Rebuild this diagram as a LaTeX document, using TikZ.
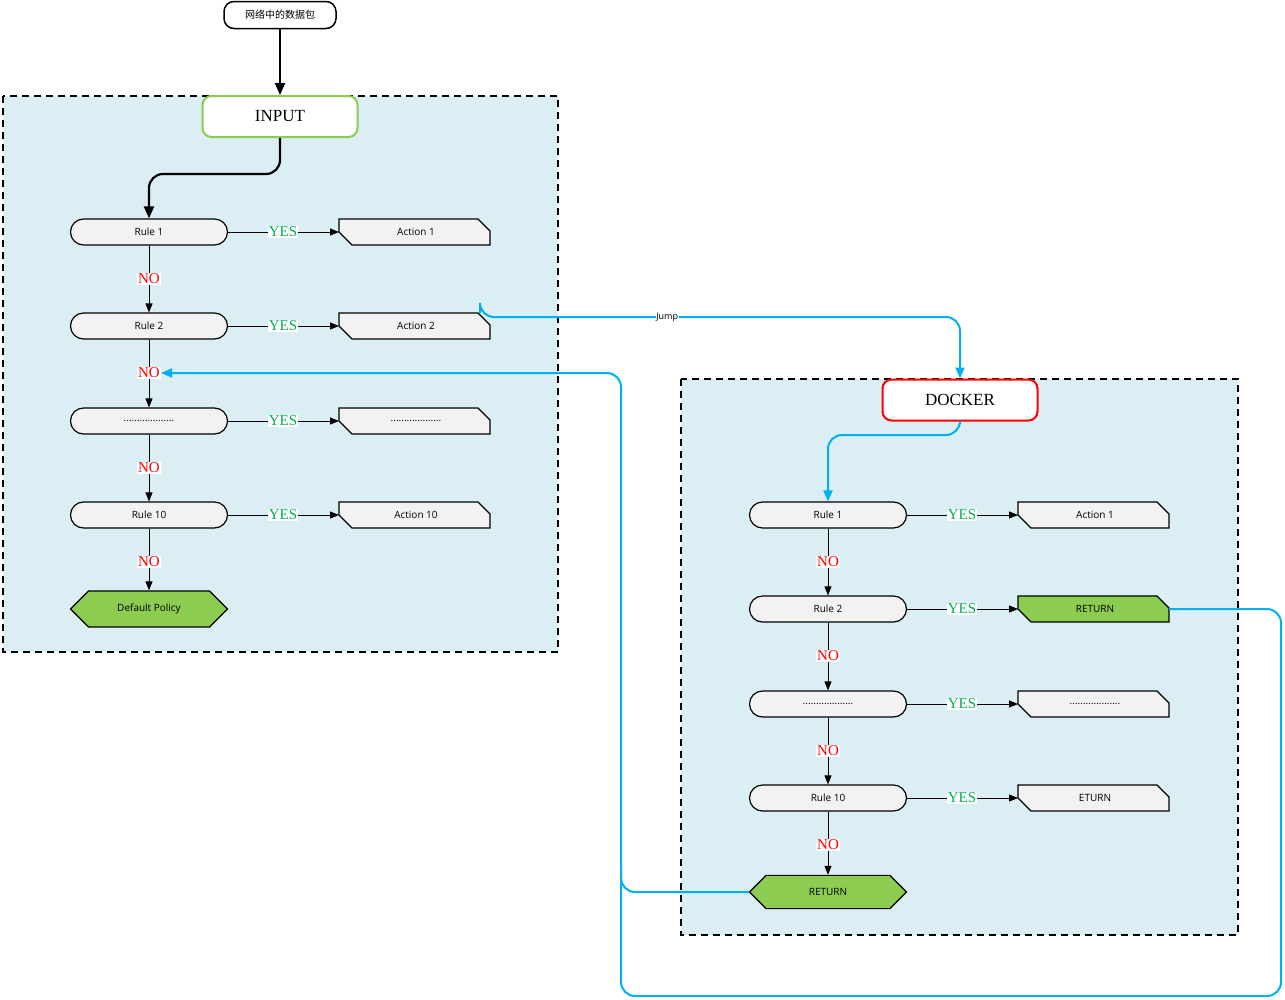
\documentclass[tikz,border=0pt]{standalone}
\usepackage{fontspec}
\setmainfont{Liberation Serif}
\setsansfont{Open Sans}
\newfontfamily\cjk{Noto Sans CJK SC}
\usetikzlibrary{arrows.meta,shapes.misc,shapes.geometric}
\definecolor{bgblue}{HTML}{DBEEF4}
\definecolor{lgreen}{HTML}{8CCC50}
\definecolor{jblue}{HTML}{00B0F0}
\definecolor{ygreen}{HTML}{00B050}
\definecolor{nodegray}{HTML}{F2F2F2}
\newcommand{\mydots}{...................}
\begin{document}
\begin{tikzpicture}[x=1pt,y=-1pt,
  box/.style={draw=black,line width=1.2pt,fill=bgblue,dash pattern=on 7pt off 5pt},
  rule/.style={draw,line width=1.2pt,fill=nodegray,rounded rectangle,minimum width=157pt,minimum height=26pt,inner sep=0pt,font=\sffamily\fontsize{10}{12}\selectfont},
  hex/.style={draw,line width=1.2pt,fill=lgreen,chamfered rectangle,chamfered rectangle xsep=6pt,chamfered rectangle ysep=13pt,minimum width=157pt,minimum height=26pt,inner sep=0pt,font=\sffamily\fontsize{10}{12}\selectfont},
  act/.style={draw,line width=1.2pt,fill=nodegray},
  atxt/.style={font=\sffamily\fontsize{10}{12}\selectfont},
  yes/.style={fill=white,text=ygreen,inner sep=1pt,font=\fontsize{15}{16}\selectfont},
  no/.style={fill=white,text=red,inner sep=1pt,font=\fontsize{15}{16}\selectfont},
  ln/.style={draw,line width=0.8pt},
  arr/.style={ln,-{Triangle[length=9pt,width=7pt]}},
  jl/.style={draw=jblue,line width=2pt,rounded corners=14pt},
  title/.style={draw,line width=2pt,fill=white,rounded corners=9pt,minimum width=155pt,minimum height=41pt,font=\fontsize{17}{20}\selectfont}
]
\useasboundingbox (0,0) rectangle (1285,999);
\newcommand{\actshape}[4]{% name, x0, ycenter, text
  \draw[act] (#2,#3-13) -- (#2+139,#3-13) -- (#2+151,#3-1) -- (#2+151,#3+13) -- (#2+13,#3+13) -- (#2,#3) -- cycle;
  \coordinate (#1w) at (#2,#3);
  \node[atxt] (#1) at (#2+77,#3) {#4};
  \coordinate (#1e) at (#2+141,#3-13);}
% top node
\node[draw,line width=1.5pt,rounded corners=10pt,fill=white,minimum width=112pt,minimum height=27pt,font=\cjk\fontsize{10}{12}\selectfont] (pkt) at (280,15) {网络中的数据包};
% left box
\draw[box] (3,96) rectangle (558,652);
\node[title,draw=lgreen] (input) at (280,116.5) {INPUT};
\draw[-{Triangle[length=12pt,width=10pt]},line width=2.2pt] (pkt) -- (input);
\foreach \n/\y/\t in {1/232/{Rule 1},2/326/{Rule 2},3/421/{\mydots},4/515/{Rule 10}}{
  \node[rule] (lr\n) at (149,\y) {\t};}
\node[hex] (ldp) at (149,609) {Default Policy};
\actshape{la1}{339}{232}{Action 1}
\actshape{la2}{339}{326}{Action 2}
\actshape{la3}{339}{421}{\mydots}
\actshape{la4}{339}{515}{Action 10}
\draw[line width=2.2pt,rounded corners=14pt,-{Triangle[length=12pt,width=10pt]}] (input.south) -- (280,174) -- (149,174) -- (lr1.north);
\foreach \n in {1,2,3,4}{
  \draw[arr] (lr\n.east) -- node[yes,pos=0.495]{YES} (la\n w);}
\foreach \a/\b/\y in {lr1/lr2/279,lr2/lr3/373,lr3/lr4/468,lr4/ldp/562}{
  \draw[arr] (\a.south) -- (\b.north);
  \node[no] (no\a) at (149,\y) {NO};}
% right box
\draw[box] (681,379) rectangle (1238,935);
\node[title,draw=red] (docker) at (960,400) {DOCKER};
\foreach \n/\y/\t in {1/515/{Rule 1},2/609/{Rule 2},3/704/{\mydots},4/798/{Rule 10}}{
  \node[rule] (rr\n) at (828,\y) {\t};}
\node[hex] (rret) at (828,892) {RETURN};
\actshape{ra1}{1018}{515}{Action 1}
\draw[act,fill=lgreen] (1018,596) -- (1157,596) -- (1169,608) -- (1169,622) -- (1031,622) -- (1018,609) -- cycle;
\node[atxt] (ra2) at (1095,609) {RETURN};
\coordinate (ra2w) at (1018,609);
\actshape{ra3}{1018}{704}{\mydots}
\actshape{ra4}{1018}{798}{ETURN}
\foreach \n in {1,2,3,4}{
  \draw[arr] (rr\n.east) -- node[yes,pos=0.495]{YES} (ra\n w);}
\foreach \a/\b/\y in {rr1/rr2/562,rr2/rr3/656,rr3/rr4/751,rr4/rret/845}{
  \draw[arr] (\a.south) -- (\b.north);
  \node[no] (no\a) at (828,\y) {NO};}
% blue lines
\draw[jl,-{Triangle[length=11pt,width=9pt]}] (la2e) -- (480,317) -- node[pos=0.39,fill=white,inner sep=0.5pt,text=black,font=\sffamily\fontsize{9}{10}\selectfont]{Jump} (960,317) -- (docker.north);
\draw[jl,-{Triangle[length=11pt,width=9pt]}] (docker.south) -- (960,435) -- (828,435) -- (rr1.north);
\draw[jl,-{Triangle[length=11pt,width=9pt]}] (rret.west) -- (621,892) -- (621,373) -- (nolr2.east);
\draw[jl] (1169,609) -- (1281,609) -- (1281,996) -- (621,996) -- (621,870);
\end{tikzpicture}
\end{document}
